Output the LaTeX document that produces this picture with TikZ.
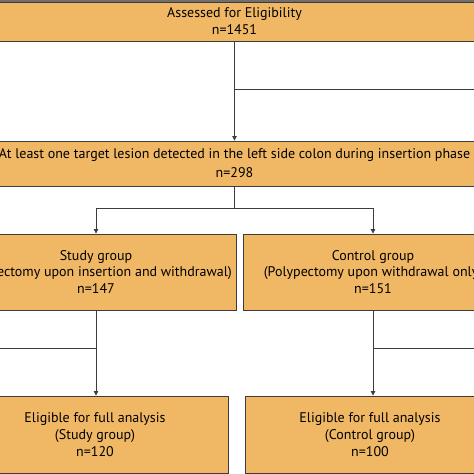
\documentclass[tikz,border=0pt]{standalone}
\usepackage{fontspec}
\setmainfont{PT Sans}
\usetikzlibrary{arrows.meta}
\definecolor{boxfill}{RGB}{240,184,100}
\definecolor{boxline}{RGB}{60,60,60}
\definecolor{topband}{RGB}{115,110,110}
\begin{document}
\begin{tikzpicture}[x=1pt,y=-1pt,
  box/.style={draw=boxline, fill=boxfill, line width=0.9pt, inner sep=0pt, align=center,
    font=\fontsize{14}{16.8}\selectfont},
  conn/.style={draw=boxline, line width=0.8pt},
  arr/.style={conn, -{Triangle[width=4.5pt,length=4.5pt]}}]
\useasboundingbox (0,0) rectangle (474,474);
\clip (0,0) rectangle (474,474);
\fill[white] (0,0) rectangle (474,474);
\fill[topband] (0,0) rectangle (474,2.5);
\node[box, minimum width=560, minimum height=39] (elig) at (234.5,21.5) {Assessed for Eligibility\\n=1451};
\node[box, minimum width=560, minimum height=45, font=\fontsize{14}{19}\selectfont] (lesion) at (234.5,163.5)
  {At least one target lesion detected in the left side colon during insertion phase\\n=298};
\node[box, minimum width=280, minimum height=76] (study) at (96,272)
  {Study group\\(Polypectomy upon insertion and withdrawal)\\n=147};
\node[box, minimum width=260, minimum height=76] (control) at (373,272)
  {Control group\\(Polypectomy upon withdrawal only)\\n=151};
\node[box, minimum width=266, minimum height=77] (fullS) at (95,434.5)
  {Eligible for full analysis\\(Study group)\\n=120};
\node[box, minimum width=250, minimum height=77] (fullC) at (370,434.5)
  {Eligible for full analysis\\(Control group)\\n=100};
\coordinate (ex1) at (474,89);
\coordinate (ex2) at (0,348);
\coordinate (ex3) at (474,348);
\draw[arr] (elig.south) -- (lesion.north);
\draw[conn] (elig.south |- ex1) -- (ex1);
\draw[arr] (lesion.south) -- ++(0,22) -| (study.north);
\draw[arr] (lesion.south) -- ++(0,22) -| (control.north);
\draw[arr] (study.south) -- (study.south |- fullS.north);
\draw[conn] (study.south |- ex2) -- (ex2);
\draw[arr] (control.south) -- (control.south |- fullC.north);
\draw[conn] (control.south |- ex3) -- (ex3);
\end{tikzpicture}
\end{document}
